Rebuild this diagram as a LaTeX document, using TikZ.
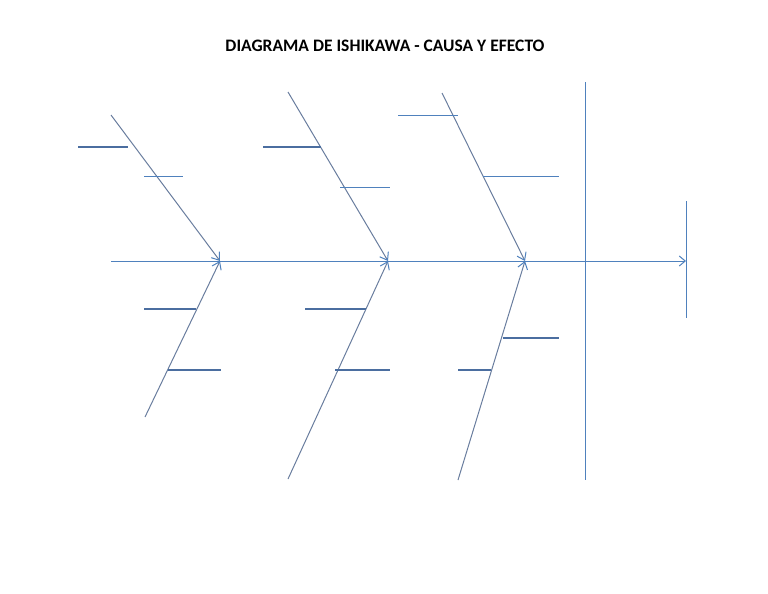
\documentclass[tikz,border=0pt]{standalone}
\usepackage{fontspec}
\setmainfont{Carlito}
\usetikzlibrary{arrows.meta}
\definecolor{spineblue}{RGB}{79,129,189}
\definecolor{bonegray}{RGB}{105,125,158}
\definecolor{ribblue}{RGB}{75,110,160}
\tikzset{
    spine/.style={draw=spineblue, line width=1pt},
    bone/.style={draw=bonegray, line width=1pt, -{Straight Barb[length=7pt, width=10pt, color=spineblue]}},
    rib/.style={draw=ribblue, line width=1.4pt},
    thinrib/.style={draw=spineblue, line width=1pt}
}

\begin{document}
\begin{tikzpicture}[x=1pt, y=-1pt]
        \useasboundingbox (0,0) rectangle (768,594);
        \node[font=\bfseries\fontsize{17.5}{20}\selectfont] (title) at (385,46) {DIAGRAMA DE ISHIKAWA - CAUSA Y EFECTO};
        % spine and heads
        \coordinate (tail) at (111,261);
        \coordinate (h1) at (220,261);
        \coordinate (h2) at (388,261);
        \coordinate (h3) at (525,261);
        \coordinate (head) at (686,261);
        \draw[spine, -{Straight Barb[length=6pt, width=10pt]}] (tail) -- (head);
        \draw[spine] (585,82) -- (585,480);
        \draw[spine] (686,201) -- (686,318);
        % upper bones
        \foreach \x/\y/\h in {111/115/h1, 288/92/h2, 442/93/h3} {
            \draw[bone] (\x,\y) -- (\h);
        }
        % lower bones
        \foreach \x/\y/\h in {145/417/h1, 288/479/h2, 458/480/h3} {
            \draw[bone] (\x,\y) -- (\h);
        }
        % ribs
        \foreach \xa/\xb/\y in {78/128/147, 263/321/147, 144/196/309, 168/221/370,
                               305/366/309, 335/390/370, 503/559/338, 458/491/370} {
            \draw[rib] (\xa,\y) -- (\xb,\y);
        }
        \foreach \xa/\xb/\y in {144/183/176, 340/390/187, 398/458/115, 483/559/176} {
            \draw[thinrib] (\xa,\y) -- (\xb,\y);
        }
    \end{tikzpicture}
\end{document}
